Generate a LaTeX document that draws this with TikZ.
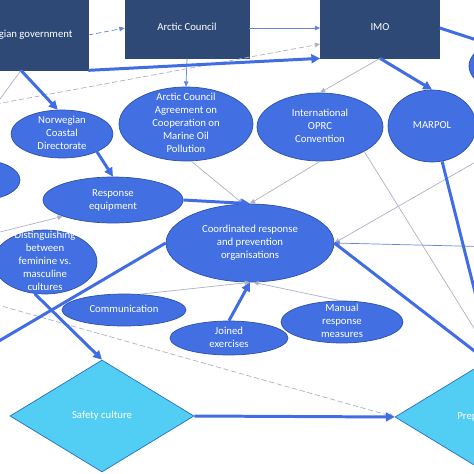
\documentclass[tikz,border=0pt]{standalone}
\usepackage{fontspec}
\setmainfont{Carlito}
\usetikzlibrary{arrows.meta, shapes.geometric}

\definecolor{boxnavy}{RGB}{46,73,118}
\definecolor{ovblue}{RGB}{66,112,226}
\definecolor{ovline}{RGB}{45,80,170}
\definecolor{dmcyan}{RGB}{82,206,245}
\definecolor{dmline}{RGB}{40,110,190}
\definecolor{lnblue}{RGB}{64,108,228}
\definecolor{lngray}{RGB}{172,178,198}

\newcommand{\pxu}{0.2mm}
\newcommand{\ovtxt}[1]{\smash{\raisebox{-1.5pt}{\makebox[0pt]{\begin{tabular}{@{}c@{}}#1\end{tabular}}}}}

\begin{document}
\begin{tikzpicture}[x=0.02cm, y=-0.02cm,
  font=\fontsize{6.1}{7.4}\selectfont,
  govbox/.style={rectangle, fill=boxnavy, draw=boxnavy, text=white, inner sep=0pt},
  oval/.style={ellipse, fill=ovblue, draw=ovline, line width=0.4pt, text=white, inner sep=0pt},
  diam/.style={diamond, fill=dmcyan, draw=dmline, line width=0.4pt, text=white, inner sep=0pt},
  tk/.style={lnblue, line width=1.7pt, -{Triangle[length=5pt,width=5pt]}},
  faint/.style={lngray, line width=0.4pt, -{Triangle[length=3pt,width=2.6pt]}},
  faintblue/.style={lnblue!65!lngray, line width=0.4pt, -{Triangle[length=3pt,width=2.6pt]}},
  dashes/.style={dash pattern=on 3pt off 1.5pt}]
  \useasboundingbox (0,0) rectangle (474,474);
  \clip (0,0) rectangle (474,474);

  % governance boxes
  \node[govbox, minimum width=134*\pxu, minimum height=70*\pxu] (gov) at (21,35) {\ovtxt{Norwegian government}};
  \node[govbox, minimum width=124*\pxu, minimum height=60*\pxu] (arc) at (187,28) {\ovtxt{Arctic Council}};
  \node[govbox, minimum width=119*\pxu, minimum height=60*\pxu] (imo) at (380,28) {\ovtxt{IMO}};

  % ellipses
  \node[oval, minimum width=80*\pxu, minimum height=40*\pxu] (lft) at (-20,180) {};
  \node[oval, minimum width=102*\pxu, minimum height=56*\pxu] (rgt) at (520,66) {};
  \node[oval, minimum width=102*\pxu, minimum height=48*\pxu] (ncd) at (62,134) {\ovtxt{Norwegian\\Coastal\\Directorate}};
  \node[oval, minimum width=134*\pxu, minimum height=74*\pxu] (acag) at (186,124) {\ovtxt{Arctic Council\\Agreement on\\Cooperation on\\Marine Oil\\Pollution}};
  \node[oval, minimum width=126*\pxu, minimum height=68*\pxu] (oprc) at (320,127) {\ovtxt{International\\OPRC\\Convention}};
  \node[oval, minimum width=88*\pxu, minimum height=72*\pxu] (marpol) at (432,126) {\ovtxt{MARPOL}};
  \node[oval, minimum width=140*\pxu, minimum height=46*\pxu] (resp) at (113,200) {\ovtxt{Response\\equipment}};
  \node[oval, minimum width=104*\pxu, minimum height=64*\pxu] (dist) at (45,262) {\ovtxt{Distinguishing\\between\\feminine vs.\\masculine\\cultures}};
  \node[oval, minimum width=168*\pxu, minimum height=78*\pxu] (coord) at (250,243) {\ovtxt{Coordinated response\\and prevention\\organisations}};
  \node[oval, minimum width=124*\pxu, minimum height=32*\pxu] (comm) at (124,310) {\ovtxt{Communication}};
  \node[oval, minimum width=118*\pxu, minimum height=34*\pxu] (joined) at (229,338) {\ovtxt{Joined\\exercises}};
  \node[oval, minimum width=122*\pxu, minimum height=42*\pxu] (manual) at (342,322) {\ovtxt{Manual\\response\\measures}};

  % diamonds
  \node[diam, minimum width=184*\pxu, minimum height=112*\pxu] (safety) at (102,416) {\ovtxt{Safety culture}};
  \node[diam, minimum width=184*\pxu, minimum height=112*\pxu] (prep) at (487,417) {\ovtxt{Preparedness}};

  % ends that leave the picture
  \coordinate (offw1) at (-20,107);
  \coordinate (offw2) at (-30,140);
  \coordinate (offw3) at (-20,237);
  \coordinate (offw4) at (-20,300);
  \coordinate (offsw) at (-30,358);
  \coordinate (offe1) at (500,148);
  \coordinate (offe2) at (500,247);
  \coordinate (offe3) at (490,352);
  \coordinate (offe4) at (500,370);

  % thin links
  \draw[faintblue] (arc.east) -- (imo.west);
  \draw[faintblue, dashes] (gov.east) -- (arc.west);
  \draw[faintblue] (arc.south) -- (acag.north);
  \draw[faint] (imo.south) -- (oprc.north);
  \draw[faint, dashes] (offw1) -- (imo.-165);
  \draw[faint, -] (gov.south) -- (offw2);
  \draw[faint] (offw3) -- (resp.-162);
  \draw[faint] (acag.-82) -- (coord.100);
  \draw[faint] (oprc.south) -- (coord.north);
  \draw[faint] (oprc.-29) -- (offe4);
  \draw[faint] (offe1) -- (coord.east);
  \draw[faintblue] (offe2) -- (coord.east);
  \draw[faint] (comm.45) -- (coord.south);
  \draw[faint] (manual.95) -- (coord.-85);
  \draw[faint, dashes] (offw4) -- (prep.west);

  % thick links
  \draw[tk] (gov.south) -- (ncd.100);
  \draw[tk] (gov.south east) -- (imo.south west);
  \draw[tk] (imo.south) -- (marpol.north);
  \draw[tk] (imo.east) -- (rgt.145);
  \draw[tk] (ncd.-27) -- (resp.north);
  \draw[tk] (resp.east) -- (coord.north);
  \draw[tk] (coord.east) -- (prep.north);
  \draw[tk] (marpol.-74) -- (offe3);
  \draw[tk] (joined.north) -- (coord.south);
  \draw[tk] (coord.west) -- (offsw);
  \draw[tk] (dist.-108) -- (safety.north);
  \draw[tk] (safety.east) -- (prep.west);
\end{tikzpicture}
\end{document}
